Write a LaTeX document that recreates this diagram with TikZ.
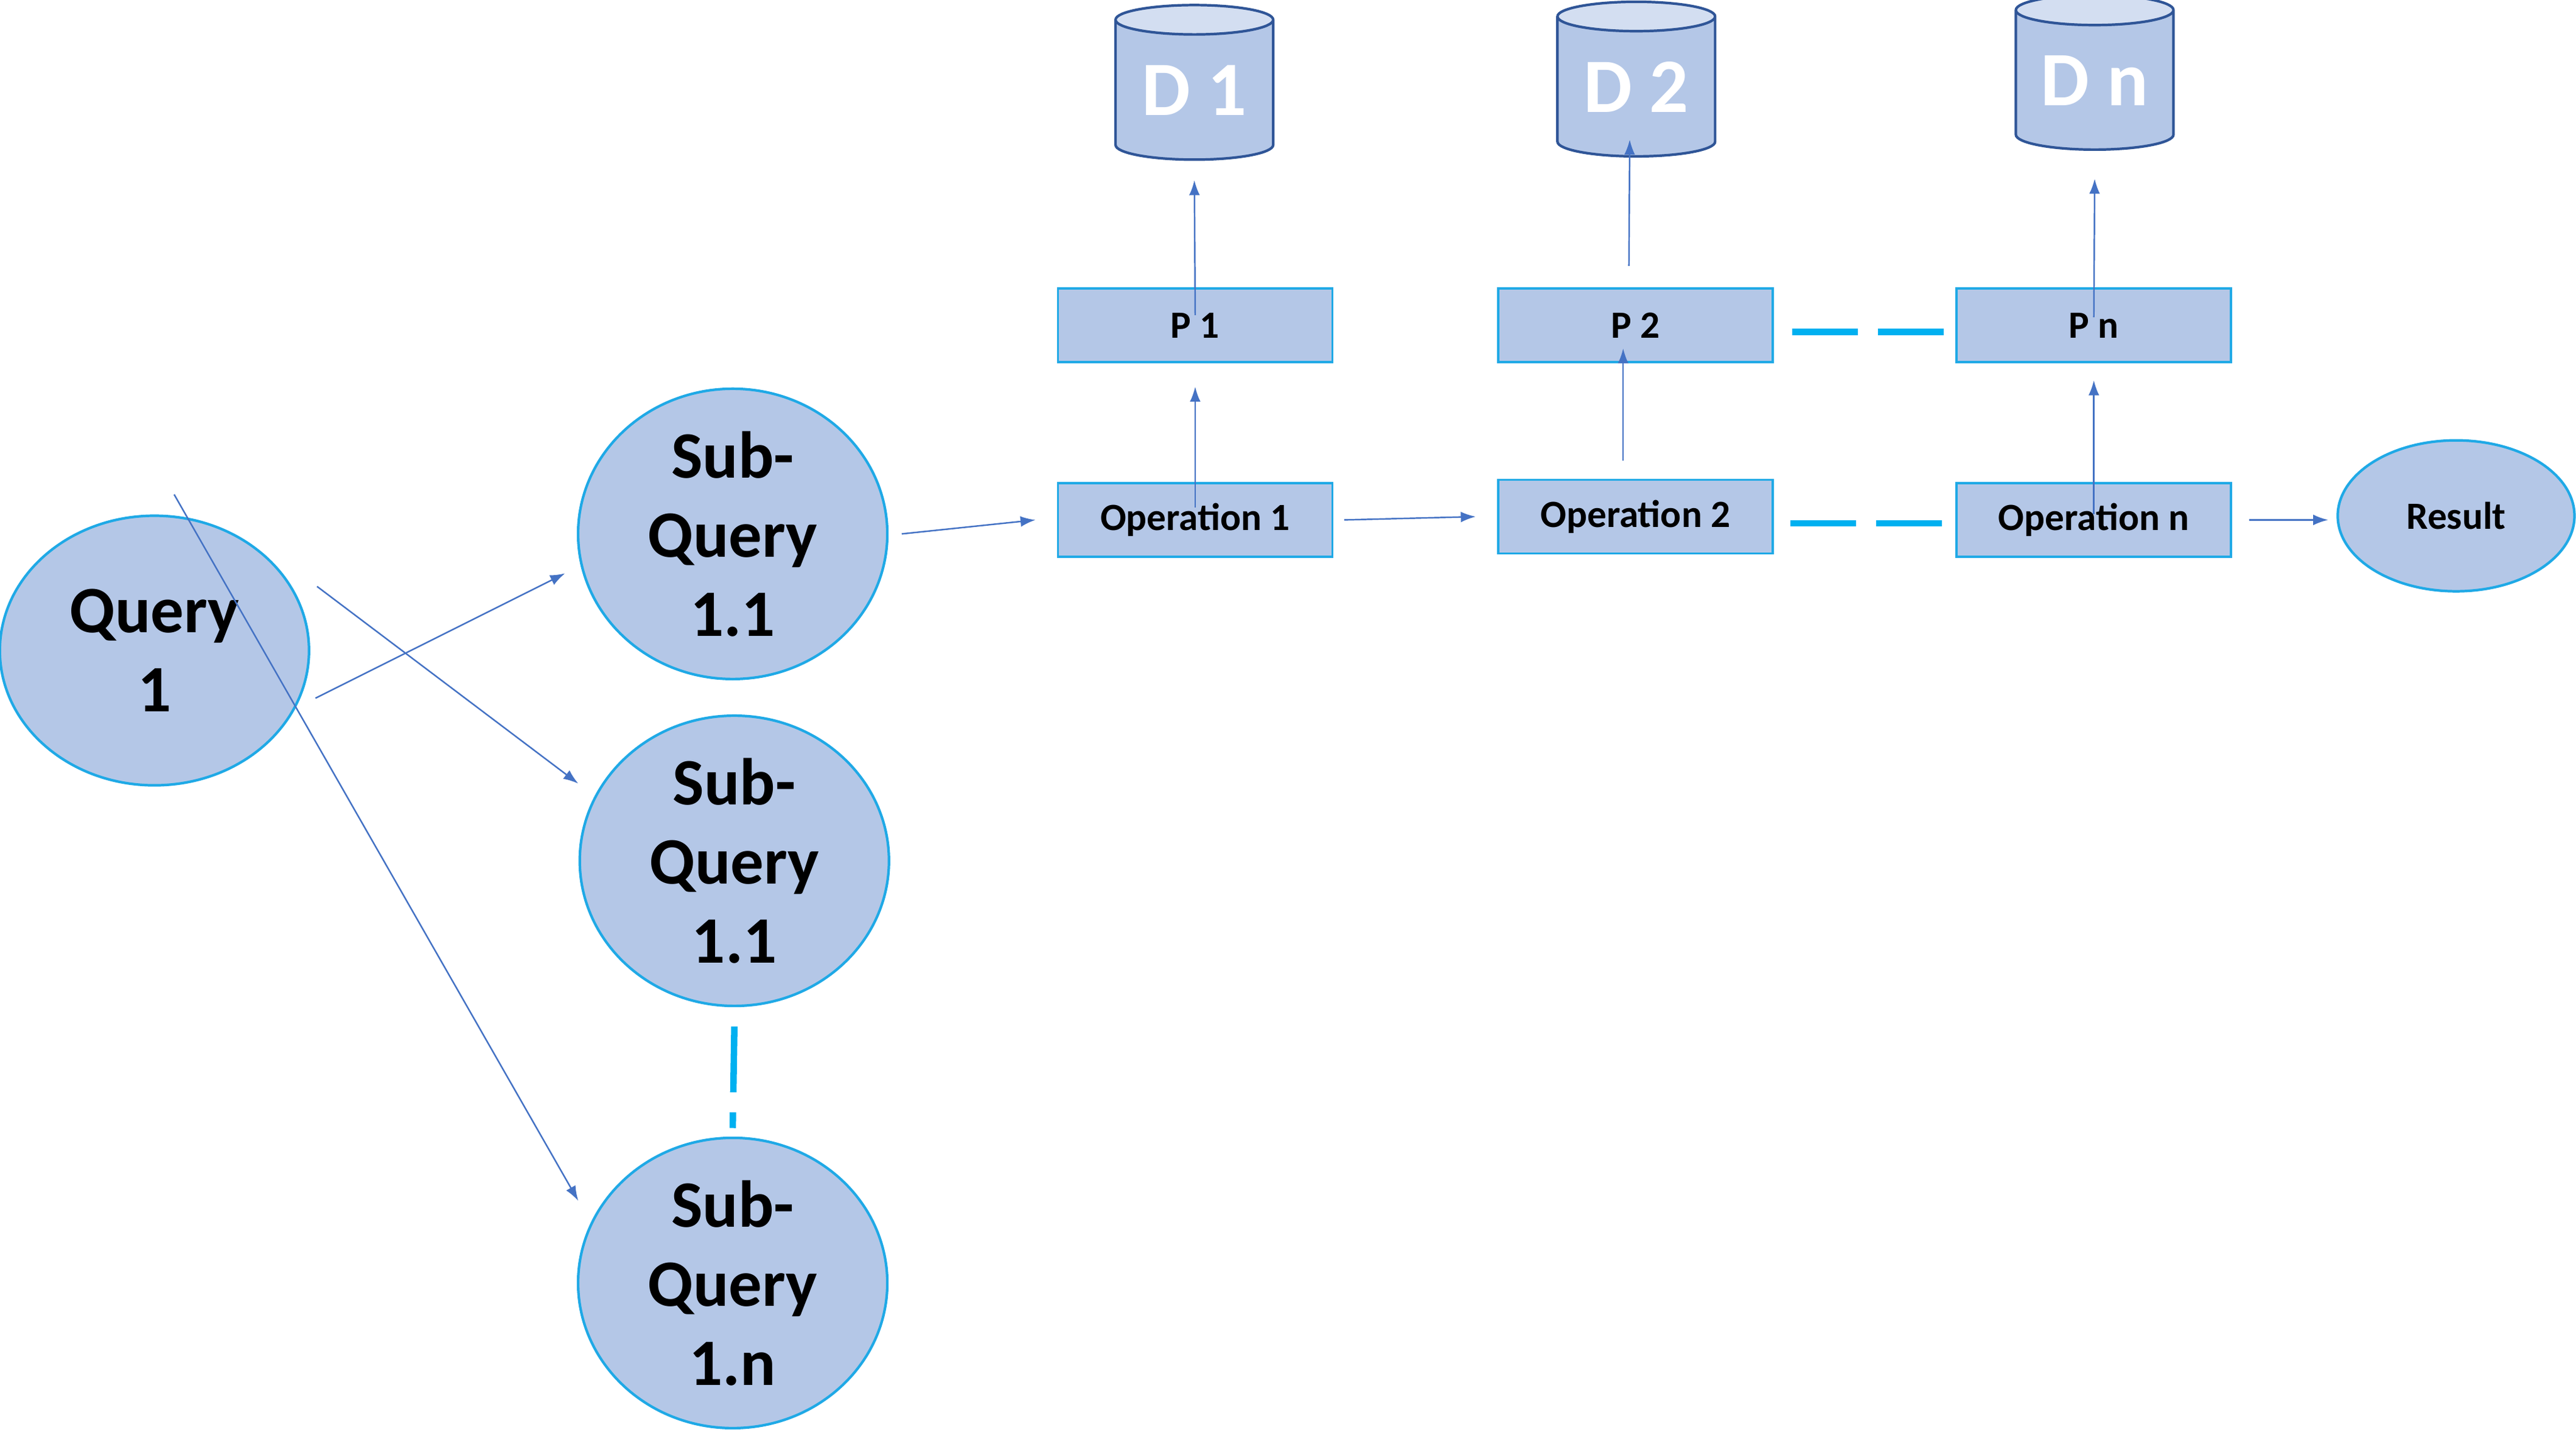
\documentclass[tikz,border=0pt]{standalone}
\usepackage{fontspec}
\setmainfont{Carlito}
\usetikzlibrary{shapes.geometric,arrows.meta}
\definecolor{fillb}{HTML}{B4C7E7}
\definecolor{edgeb}{HTML}{1FA9E6}
\definecolor{arr}{HTML}{4472C4}
\definecolor{cyl}{HTML}{2F5597}
\definecolor{cylt}{HTML}{D3DEF1}
\definecolor{dash}{HTML}{00B0F0}
\begin{document}
\begin{tikzpicture}[x=0.027cm,y=-0.027cm,
  ell/.style={ellipse,draw=edgeb,fill=fillb,line width=1.2pt,minimum width=5.08cm,minimum height=4.43cm,inner sep=0pt,align=center,font=\fontsize{31}{37}\selectfont\bfseries},
  box/.style={rectangle,draw=edgeb,fill=fillb,line width=1pt,minimum width=4.51cm,minimum height=1.21cm,inner sep=0pt,font=\fontsize{18}{20}\selectfont\bfseries},
  db/.style={cylinder,shape border rotate=90,aspect=0.28,draw=cyl,line width=1.2pt,cylinder uses custom fill,cylinder body fill=fillb,cylinder end fill=cylt,minimum width=2.59cm,minimum height=2.54cm,inner sep=0pt,text=white,font=\fontsize{36}{40}\selectfont\bfseries},
  ar/.style={draw=arr,line width=0.7pt,-{Latex[length=7pt,width=5pt]}},
  dl/.style={draw=dash,line width=3pt,dash pattern=on 1.08cm off 0.33cm}]
\useasboundingbox (0,0) rectangle (1568,879);
\node[ell] (q) at (94,396) {Query\\1};
\node[ell] (s1) at (446,325) {Sub-\\Query\\1.1};
\node[ell] (s2) at (447,524) {Sub-\\Query\\1.1};
\node[ell] (sn) at (446,781) {Sub-\\Query\\1.n};
\node[box] (o1) at (727.5,316.5) {Operation 1};
\node[box] (o2) at (995.5,314.5) {Operation 2};
\node[box] (on) at (1274.5,316.5) {Operation n};
\node[box] (p1) at (727.5,198) {P 1};
\node[box] (p2) at (995.5,198) {P 2};
\node[box] (pn) at (1274.5,198) {P n};
\node[ell,minimum width=3.89cm,minimum height=2.48cm,font=\fontsize{18}{20}\selectfont\bfseries] (r) at (1495,314) {Result};
\node[db] (d1) at (727,55) {D 1};
\node[db] (d2) at (996,53) {D 2};
\node[db] (dn) at (1275,49) {D n};
% arrows
\draw[ar] ([shift={(98,29)}]q.center) -- ([shift={(-102,24)}]s1.center);
\draw[ar] ([shift={(99,-39)}]q.center) -- ([shift={(-95,-47)}]s2.center);
\draw[ar] ([shift={(12,-95)}]q.center) -- ([shift={(-94,-50)}]sn.center);
\draw[ar] ([shift={(8,0)}]s1.east) -- ([xshift=-10]o1.west |- o1.center);
\draw[ar] ([xshift=5]o1.east) -- ([xshift=-10]o2.west);
\draw[ar] ([xshift=8]on.east) -- ([shift={(-5,0)}]r.west |- on.center);
\draw[ar] ([yshift=-12]o1.north) -- ([yshift=-11]p1.south);
\draw[ar] ([shift={(-7.5,-11)}]o2.north) -- ([shift={(-7.5,-9)}]p2.south);
\draw[ar] ([yshift=-15]on.north) -- ([yshift=-8]pn.south);
\draw[ar] ([yshift=-13]p1.north) -- ([yshift=-9]d1.south);
\draw[ar] ([shift={(-4,-13)}]p2.north) -- ([shift={(-4,-11)}]d2.south);
\draw[ar] ([yshift=-14]pn.north) -- ([yshift=-13]dn.south);
% dashed
\draw[dl] ([yshift=-9]s2.south) -- ([yshift=4]sn.north);
\draw[dl] ([shift={(10,4)}]o2.east) -- ([shift={(-8,2)}]on.west);
\draw[dl] ([shift={(11,4)}]p2.east) -- ([shift={(-5,4)}]pn.west);
\end{tikzpicture}
\end{document}
